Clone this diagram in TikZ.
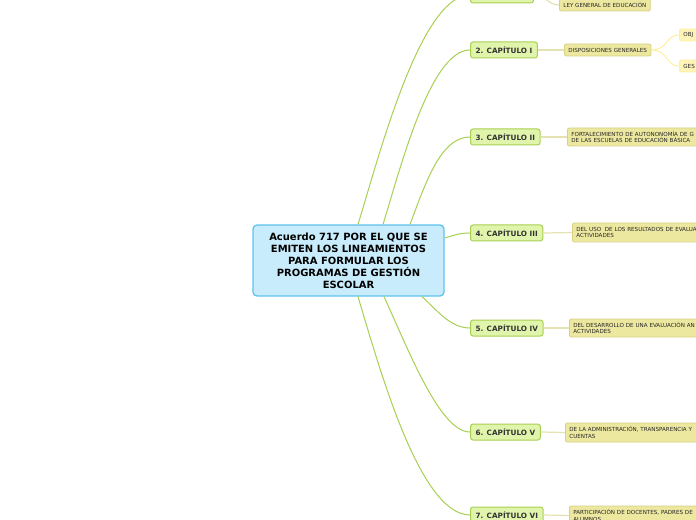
\documentclass[tikz,border=0pt]{standalone}
\usepackage{fontspec}
\setmainfont{DejaVu Sans}
\usetikzlibrary{calc}
\definecolor{ctrfill}{HTML}{C8ECFB}
\definecolor{ctrline}{HTML}{5EC3EF}
\definecolor{chfill}{HTML}{E0F5AB}
\definecolor{chline}{HTML}{A8CF52}
\definecolor{ylfill}{HTML}{EDE8A0}
\definecolor{ylline}{HTML}{D8D182}
\definecolor{lfill}{HTML}{FFF4B8}
\definecolor{lline}{HTML}{FFEFA0}
\definecolor{paleline}{HTML}{E3E2B0}
\definecolor{txtdark}{HTML}{333333}
\definecolor{txtyl}{HTML}{262626}
\tikzset{
  ctrnode/.style={fill=ctrfill, draw=ctrline, line width=1.3bp, rounded corners=4bp,
    text=black, align=center, minimum width=191bp, minimum height=71bp,
    font=\fontsize{10}{12}\selectfont\bfseries, inner sep=0pt},
  chap/.style={fill=chfill, draw=chline, line width=1bp, rounded corners=2.5bp,
    anchor=west, minimum height=16bp, inner xsep=5bp, inner ysep=0pt,
    text=txtdark, font=\fontsize{7.3}{8}\selectfont\bfseries},
  lvlthree/.style={fill=ylfill, draw=ylline, line width=0.8bp, rounded corners=2bp,
    anchor=west, inner xsep=4bp, inner ysep=0pt, text=txtyl,
    font=\fontsize{5.6}{6.8}\selectfont},
  lvlwide/.style={lvlthree, text width=190bp, align=left},
  lvlfour/.style={fill=lfill, draw=lline, line width=0.8bp, rounded corners=2bp,
    anchor=west, inner xsep=4bp, inner ysep=0pt, minimum height=12bp, text width=40bp,
    align=left, text=txtyl, font=\fontsize{5.6}{6.8}\selectfont},
  mainlink/.style={draw=chline, line width=1bp},
  sublink/.style={draw=paleline, line width=1.2bp},
  leaflink/.style={draw=lline, line width=1bp},
}
\begin{document}
\begin{tikzpicture}[x=1bp,y=-1bp]
\useasboundingbox (0,0) rectangle (696,520);
\node[ctrnode] (ctr) at (348.5,260.5) {Acuerdo 717 POR EL QUE SE\\EMITEN LOS LINEAMIENTOS\\PARA FORMULAR LOS\\PROGRAMAS DE GESTIÓN\\ESCOLAR};

\node[chap, minimum width=63bp] (c1) at (470,-5) {};
\node[chap] (c2) at (470,50) {2. CAPÍTULO I};
\node[chap] (c3) at (470,137) {3. CAPÍTULO II};
\node[chap] (c4) at (470,233) {4. CAPÍTULO III};
\node[chap] (c5) at (470,328) {5. CAPÍTULO IV};
\node[chap] (c6) at (470,432) {6. CAPÍTULO V};
\node[chap] (c7) at (470,515) {7. CAPÍTULO VI};

\node[lvlthree, minimum height=12bp] (ley) at (559,5) {LEY GENERAL DE EDUCACIÓN};
\node[lvlthree, minimum height=12bp] (disp) at (564,50) {DISPOSICIONES GENERALES};
\node[lvlfour] (obj) at (679,35) {OBJ};
\node[lvlfour] (ges) at (679,66) {GES};
\node[lvlwide, minimum height=18bp] (fort) at (567,137) {FORTALECIMIENTO DE AUTONONOMÍA DE G\\DE LAS ESCUELAS DE EDUCACIÓN BÁSICA};
\node[lvlwide, minimum height=19bp] (uso) at (572,232.5) {DEL USO\ \ DE LOS RESULTADOS DE EVALUA\\ACTIVIDADES};
\node[lvlwide, minimum height=18bp] (des) at (569,328) {DEL DESARROLLO DE UNA EVALUACIÓN AN\\ACTIVIDADES};
\node[lvlwide, minimum height=19bp] (adm) at (565,432.5) {DE LA ADMINISTRACIÓN, TRANSPARENCIA Y\\CUENTAS};
\node[lvlwide, minimum height=19bp] (par) at (569,515.5) {PARTICIPACIÓN DE DOCENTES, PADRES DE\\ALUMNOS};

% center to chapters
\draw[mainlink] ($(ctr.north)+(9.5,0)$) .. controls (378,160) and (420,-5) .. (c1.west);
\draw[mainlink] ($(ctr.north)+(34.5,0)$) .. controls (400,170) and (430,50) .. (c2.west);
\draw[mainlink] ($(ctr.north)+(61.5,0)$) .. controls (425,185) and (440,137) .. (c3.west);
\draw[mainlink] ($(ctr.east)+(0,-22.5)$) .. controls (455,235) and (460,233) .. (c4.west);
\draw[mainlink] ($(ctr.south)+(73.5,0)$) .. controls (437,310) and (450,328) .. (c5.west);
\draw[mainlink] ($(ctr.south)+(35.5,0)$) .. controls (409,351) and (440,432) .. (c6.west);
\draw[mainlink] ($(ctr.south)+(9.5,0)$) .. controls (380,370) and (420,515) .. (c7.west);

% chapters to level three
\draw[sublink] (c1.east) .. controls (547,-5) and (547,5) .. (ley.west);
\draw[sublink] (c2.east) -- (disp.west);
\draw[sublink] (c3.east) -- (fort.west);
\draw[sublink] (c4.east) -- (uso.west);
\draw[sublink] (c5.east) -- (des.west);
\draw[sublink] (c6.east) -- (adm.west);
\draw[sublink] (c7.east) -- (par.west);

% level three to level four
\draw[leaflink] (disp.east) .. controls (668,50) and (666,35) .. (obj.west);
\draw[leaflink] (disp.east) .. controls (668,50) and (666,66) .. (ges.west);
\end{tikzpicture}
\end{document}
